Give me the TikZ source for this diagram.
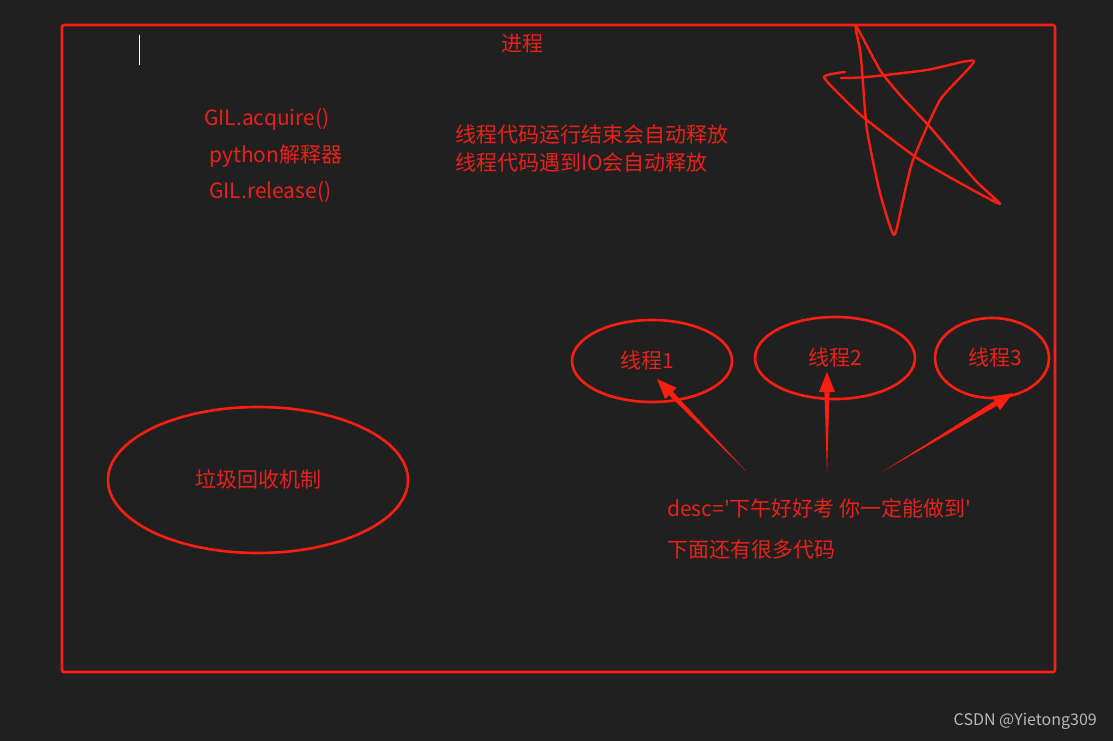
\documentclass[tikz,border=0pt]{standalone}
\usepackage{fontspec}
\setmainfont{Noto Sans CJK SC}[Ligatures=TeXOff]
\usetikzlibrary{calc,shapes.geometric}
\definecolor{bg}{HTML}{202020}
\definecolor{lred}{HTML}{FF1E12}
\definecolor{tred}{HTML}{E8221A}
\definecolor{wm}{HTML}{B8B8B8}
\tikzset{
  lbl/.style={text=tred, font=\fontsize{21}{25}\selectfont, inner sep=0pt, text height=15pt, text depth=0pt},
  lblw/.style={lbl, anchor=west},
  oval/.style={lbl, draw=lred, line width=2.6pt, shape=ellipse},
  redline/.style={draw=lred, line width=2.6pt, line cap=round, line join=round},
  bigarrow/.style={fill=lred},
}
\newcommand{\taperarrow}[3]{%
  \coordinate (#3b) at ($(#2)!20pt!(#1)$);
  \fill[bigarrow] (#1) -- ($(#3b)!2.6pt!90:(#2)$) -- ($(#3b)!8pt!90:(#2)$) -- (#2)
     -- ($(#3b)!8pt!-90:(#2)$) -- ($(#3b)!2.6pt!-90:(#2)$) -- cycle;}
\begin{document}
\begin{tikzpicture}[x=1pt,y=-1pt]
\fill[bg] (0,0) rectangle (1113,741);
\useasboundingbox (0,0) rectangle (1113,741);
% process frame
\draw[redline, rounded corners=2pt] (62,25) rectangle (1055,672);
% cursor
\draw[white, line width=1pt] (139,35) -- (139,65);
% labels
\node[lbl] (proc) at (522,44) {进程};
\node[lblw] (acq) at (204,118) {GIL.acquire()};
\node[lblw] (py) at (209,155) {python解释器};
\node[lblw] (rel) at (209,191) {GIL.release()};
\node[lblw] (n1) at (455,135) {线程代码运行结束会自动释放};
\node[lblw] (n2) at (455,163) {线程代码遇到IO会自动释放};
% threads
\node[oval, minimum width=160pt, minimum height=82pt] (t1) at (652,361) {\hspace*{-9pt}线程1};
\node[oval, minimum width=160pt, minimum height=82pt] (t2) at (835,358) {线程2};
\node[oval, minimum width=114pt, minimum height=80pt] (t3) at (992,358) {\hspace*{6pt}线程3};
% gc
\node[oval, minimum width=300pt, minimum height=146pt] (gc) at (258,480) {垃圾回收机制};
% bottom text
\node[lblw] (desc) at (667,509) {desc='下午好好考 你一定能做到'};
\node[lblw] (more) at (667,550) {下面还有很多代码};
% arrows
\coordinate (s1) at (746,471);
\coordinate (e1) at (657,379);
\coordinate (s2) at (827,474);
\coordinate (e2) at (827,372);
\coordinate (s3) at (882,472);
\coordinate (e3) at (1013,393);
\taperarrow{s1}{e1}{a1}
\taperarrow{s2}{e2}{a2}
\taperarrow{s3}{e3}{a3}
% star
\draw[redline, line width=2.4pt] plot[smooth, tension=0.35] coordinates {
 (845,72) (824,77) (845,100) (863,117) (890,138) (920,160) (960,183) (1000,204)
 (975,180) (930,127) (900,95) (880,70) (856,26)
 (860,50) (862,70) (867,130) (880,193) (894,235)
 (903,200) (913,160) (940,100) (974,61)
 (927,70) (867,77) (841,78)};
% watermark
\node[text=wm, font=\fontsize{16}{18}\selectfont, anchor=east, inner sep=0pt] (wmk) at (1097,721) {CSDN @Yietong309};
\end{tikzpicture}
\end{document}
